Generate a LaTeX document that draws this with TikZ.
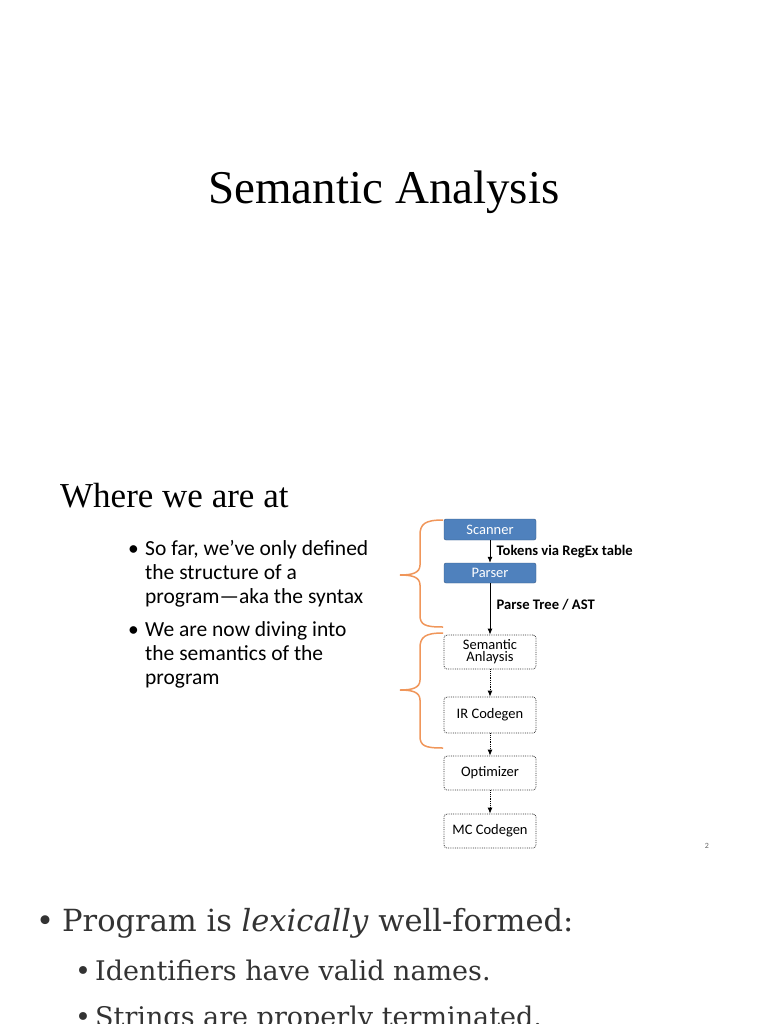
\documentclass[tikz,border=0pt]{standalone}
\usepackage{fontspec}
\setmainfont{Liberation Serif}
\newfontfamily\carl{Carlito}
\newfontfamily\dvs{DejaVu Serif}
\usetikzlibrary{arrows.meta}
\definecolor{boxblue}{RGB}{79,129,189}
\definecolor{brc}{RGB}{240,150,90}
\begin{document}
\begin{tikzpicture}[x=1pt,y=-1pt,
 solid box/.style={draw=boxblue!70!black,fill=boxblue,rounded corners=2pt,minimum width=92pt,text=white,font=\carl\fontsize{14.5}{15}\selectfont,inner sep=0pt},
 dot box/.style={draw=black!80,densely dotted,thick,rounded corners=3pt,minimum width=92pt,align=center,font=\carl\fontsize{14.5}{15}\selectfont,inner sep=0pt},
 arr/.style={-{Latex[length=6pt,width=5pt]},thick},
 darr/.style={-{Latex[length=6pt,width=5pt]},thick,densely dotted},
 brace/.style={draw=brc,line width=1.5pt},
 bul/.style={anchor=base west,font=\carl\fontsize{21.5}{22}\selectfont},
 big/.style={anchor=base west,text=black!80,font=\dvs\fontsize{30.5}{32}\selectfont},
 sub/.style={anchor=base west,text=black!80,font=\dvs\fontsize{27}{28}\selectfont}]
\useasboundingbox (0,0) rectangle (768,1024);
\node (title) at (384,192) {\fontsize{47}{50}\selectfont Semantic Analysis};
\node[anchor=base west,inner sep=0pt] (where) at (60,507) {\fontsize{35}{36}\selectfont Where we are at};
\node[bul,inner sep=0pt] (d1) at (128,555) {\textbullet};
\node[bul,inner sep=0pt] (b1) at (145,555) {So far, we’ve only defined};
\node[bul,inner sep=0pt] (b1b) at (145,579) {the structure of a};
\node[bul,inner sep=0pt] (b1c) at (145,603) {program—aka the syntax};
\node[bul,inner sep=0pt] (d2) at (128,636) {\textbullet};
\node[bul,inner sep=0pt] (b2) at (145,636) {We are now diving into};
\node[bul,inner sep=0pt] (b2b) at (145,660) {the semantics of the};
\node[bul,inner sep=0pt] (b2c) at (145,684) {program};

\node[solid box,minimum height=21pt] (scan) at (490,529.5) {Scanner};
\node[solid box,minimum height=20pt] (pars) at (490,573) {Parser};
\node[dot box,minimum height=34pt] (sem) at (490,652) {Semantic\\[-3pt]Anlaysis};
\node[dot box,minimum height=36pt] (ir) at (490,715) {IR Codegen};
\node[dot box,minimum height=34pt] (opt) at (490,773) {Optimizer};
\node[dot box,minimum height=34pt] (mc) at (490,831) {MC Codegen};
\draw[arr] (scan) -- node[right=3pt,font=\carl\bfseries\fontsize{14.6}{15}\selectfont]{Tokens via RegEx table} (pars);
\draw[arr] (pars) -- node[right=3pt,pos=0.42,font=\carl\bfseries\fontsize{14.6}{15}\selectfont]{Parse Tree / AST} (sem);
\draw[darr] (sem) -- (ir);
\draw[darr] (ir) -- (opt);
\draw[darr] (opt) -- (mc);

\coordinate (t1) at (443,520); \coordinate (t2) at (443,627);
\coordinate (u1) at (443,633); \coordinate (u2) at (443,748);
\draw[brace] (t1) .. controls (425,520) and (420,524) .. (420,535) -- (420,565) .. controls (420,573) and (412,575) .. (400,575)
  .. controls (412,575) and (420,577) .. (420,585) -- (420,615) .. controls (420,625) and (425,627) .. (t2);
\draw[brace] (u1) .. controls (425,633) and (420,637) .. (420,648) -- (420,680) .. controls (420,688) and (412,690) .. (400,690)
  .. controls (412,690) and (420,692) .. (420,700) -- (420,736) .. controls (420,746) and (425,748) .. (u2);
\node[font=\carl\fontsize{8}{9}\selectfont,text=black!60] (pg) at (707,846) {2};

\node[big,inner sep=0pt] (q1) at (36,931) {\textbullet};
\node[big,inner sep=0pt] (p1) at (62,931) {Program is \textit{lexically} well-formed:};
\node[sub,inner sep=0pt] (q2) at (75,980) {\textbullet};
\node[sub,inner sep=0pt] (p2) at (95,980) {Identifiers have valid names.};
\node[sub,inner sep=0pt] (q3) at (75,1026) {\textbullet};
\node[sub,inner sep=0pt] (p3) at (95,1026) {Strings are properly terminated.};
\end{tikzpicture}
\end{document}
